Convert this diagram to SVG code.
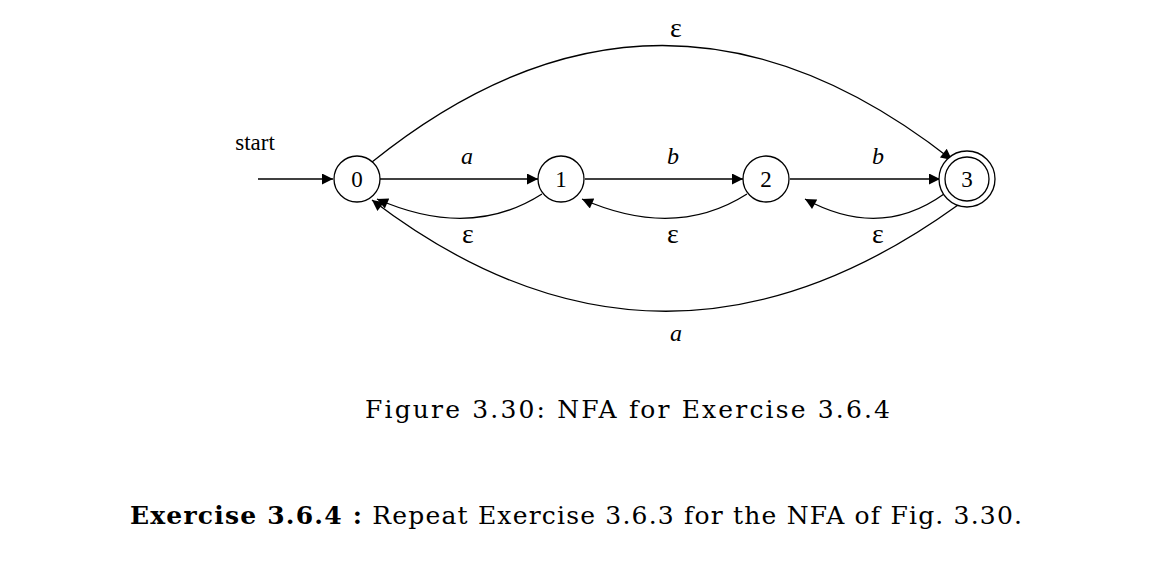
<svg xmlns="http://www.w3.org/2000/svg" width="1150" height="567" viewBox="0 0 1150 567">
<style>
.n{fill:#fff;stroke:#000;stroke-width:1.3}
.e{fill:none;stroke:#000;stroke-width:1.3}
.t{font-family:"Liberation Serif",serif;font-size:23px}
.g{font-family:"Liberation Serif",serif;font-size:28px}
.i{font-family:"Liberation Serif",serif;font-size:24px;font-style:italic}
.c{font-family:"DejaVu Serif","Liberation Serif",serif;font-size:25px}
</style>
<defs><marker id="ar" viewBox="0 0 10 10" refX="10" refY="5" markerWidth="20" markerHeight="11" markerUnits="userSpaceOnUse" orient="auto"><path d="M0,0L10,5L0,10z"/></marker></defs>
<rect width="1150" height="567" fill="#fff"/>
<g id="connectors">
<path class="e" d="M258,179H333" marker-end="url(#ar)"/>
<path class="e" d="M380,179H538" marker-end="url(#ar)"/>
<path class="e" d="M585,179H743" marker-end="url(#ar)"/>
<path class="e" d="M790,179H940" marker-end="url(#ar)"/>
<path class="e" d="M542,194Q470,240 377,199" marker-end="url(#ar)"/>
<path class="e" d="M747,194Q675,240 582,199" marker-end="url(#ar)"/>
<path class="e" d="M944,194Q880,240 805,199" marker-end="url(#ar)"/>
<path class="e" d="M372,162Q660,-70 952,160" marker-end="url(#ar)"/>
<path class="e" d="M958,205Q660,420 372,200" marker-end="url(#ar)"/>
<text class="t" x="255" y="150" text-anchor="middle">start</text>
<text class="i" x="467" y="164" text-anchor="middle">a</text>
<text class="i" x="673" y="164" text-anchor="middle">b</text>
<text class="i" x="878" y="164" text-anchor="middle">b</text>
<text class="g" x="468" y="243" text-anchor="middle">ε</text>
<text class="g" x="673" y="243" text-anchor="middle">ε</text>
<text class="g" x="878" y="243" text-anchor="middle">ε</text>
<text class="g" x="676" y="37" text-anchor="middle">ε</text>
<text class="i" x="676" y="341" text-anchor="middle">a</text>
</g>
<g id="n0"><circle class="n" cx="357" cy="179" r="23"/><text class="t" x="357" y="187" text-anchor="middle">0</text></g>
<g id="n1"><circle class="n" cx="561" cy="179" r="23"/><text class="t" x="561" y="187" text-anchor="middle">1</text></g>
<g id="n2"><circle class="n" cx="766" cy="179" r="23"/><text class="t" x="766" y="187" text-anchor="middle">2</text></g>
<g id="n3"><circle class="n" cx="967" cy="179" r="28"/><circle class="n" cx="967" cy="179" r="22"/><text class="t" x="967" y="187" text-anchor="middle">3</text></g>
<text class="c" x="365" y="418" textLength="525" lengthAdjust="spacing">Figure 3.30: NFA for Exercise 3.6.4</text>
<text class="c" x="130" y="524" textLength="892" lengthAdjust="spacing"><tspan font-weight="bold">Exercise 3.6.4 :</tspan> Repeat Exercise 3.6.3 for the NFA of Fig. 3.30.</text>
</svg>
